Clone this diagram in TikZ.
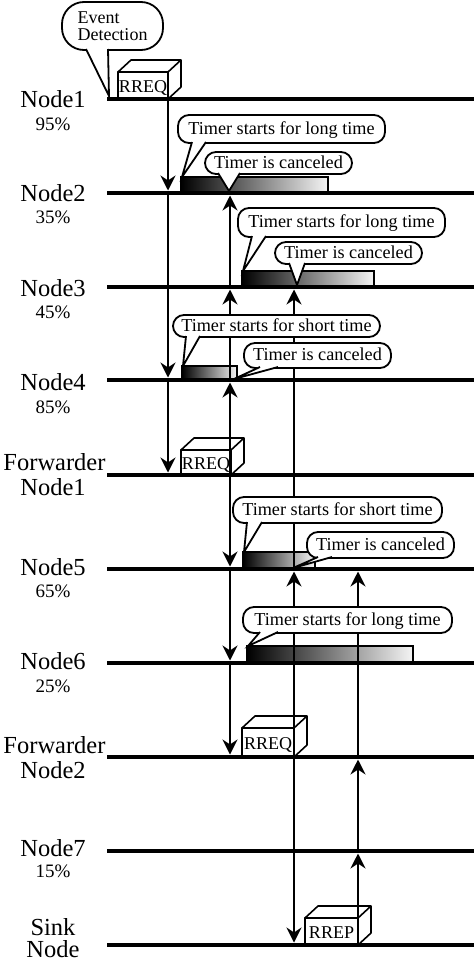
\documentclass[tikz,border=0pt]{standalone}
\usepackage{fontspec}
\setmainfont{Liberation Serif}
\usetikzlibrary{arrows.meta,calc}
\newcommand\calltail[4]{%
  \fill[white] ([xshift=#2pt,yshift=1.6pt]#1.south west) -- (#4) -- ([xshift=#3pt,yshift=1.6pt]#1.south west) -- cycle;
  \draw[tailline] ([xshift=#2pt,yshift=1pt]#1.south west) -- (#4) -- ([xshift=#3pt,yshift=1pt]#1.south west);
}
\newcommand\pktfaces[1]{%
  \filldraw[pktline, fill=white] (#1.north west) -- ++(13,-12) -- ([shift={(13,-12)}]#1.north east) -- ([shift={(13,-12)}]#1.south east) -- (#1.south east) -- (#1.north east) -- cycle;
  \draw[pktline] (#1.north east) -- ++(13,-12);
}
\begin{document}
\begin{tikzpicture}[x=1pt,y=-1pt,
  hline/.style={line width=3.5pt},
  vline/.style={line width=1.7pt},
  arr/.style={vline,-{Stealth[length=15pt,width=15pt,inset=5pt]},shorten >=2.5pt},
  lbl/.style={font=\fontsize{24.5}{26}\selectfont, anchor=base, inner sep=0pt},
  pct/.style={font=\fontsize{19}{20}\selectfont, anchor=base, inner sep=0pt},
  callout/.style={draw, line width=1.8pt, fill=white, rounded corners=11pt, inner sep=0pt, outer sep=0pt,
    font=\fontsize{18.2}{18}\selectfont, text height=12pt, text depth=2pt},
  tailline/.style={line width=1.8pt, line join=miter},
  bar/.style={draw, line width=1.2pt, left color=black, right color=black!4},
  pktline/.style={line width=1.6pt, line join=round},
  pkt/.style={draw, pktline, fill=white, inner sep=0pt, outer sep=0pt, anchor=south west,
    font=\fontsize{18}{18}\selectfont, text height=13pt, text depth=0pt},
]
\useasboundingbox (0,0) rectangle (474,961);

% ---- packets
\node[pkt, minimum width=50pt, minimum height=27pt] (r1) at (118,99) {RREQ};
\pktfaces{r1}
\node[pkt, minimum width=50pt, minimum height=25pt] (r2) at (181,475) {RREQ};
\pktfaces{r2}
\node[pkt, minimum width=52pt, minimum height=29pt] (r3) at (242,757) {RREQ};
\pktfaces{r3}
\node[pkt, minimum width=53pt, minimum height=27pt] (rp) at (305,945) {RREP};
\pktfaces{rp}

% ---- timer bars
\shade[bar] (181,177) rectangle (328,193);
\shade[bar] (242,271) rectangle (374,287);
\shade[bar] (182,366) rectangle (237,380);
\shade[bar] (243,552) rectangle (315,569);
\shade[bar] (247,646) rectangle (413,663);

% ---- node lines
\foreach \n/\y in {n1/99,n2/193,n3/287,n4/380,f1/475,n5/569,n6/663,f2/757,n7/851,sk/945}{
  \coordinate (\n s) at (107,\y);
  \coordinate (\n e) at (474,\y);
  \draw[hline] (\n s) -- (\n e);
}

% ---- labels
\node[lbl] (l1) at (53,107) {Node1};   \node[pct] (p1) at (53,130) {95\%};
\node[lbl] (l2) at (53,201.5) {Node2}; \node[pct] (p2) at (53,223) {35\%};
\node[lbl] (l3) at (53,296) {Node3};   \node[pct] (p3) at (53,318) {45\%};
\node[lbl] (l4) at (53,390) {Node4};   \node[pct] (p4) at (53,413) {85\%};
\node[lbl] (lf1) at (54.5,470) {Forwarder}; \node[lbl] (lf1b) at (53,495) {Node1};
\node[lbl] (l5) at (53,575) {Node5};   \node[pct] (p5) at (53,597) {65\%};
\node[lbl] (l6) at (53,669) {Node6};   \node[pct] (p6) at (53,692) {25\%};
\node[lbl] (lf2) at (54.5,753) {Forwarder}; \node[lbl] (lf2b) at (53,778) {Node2};
\node[lbl] (l7) at (53,856) {Node7};   \node[pct] (p7) at (53,877) {15\%};
\node[lbl] (lsk) at (53,935) {Sink};   \node[lbl] (lskb) at (53,957.5) {Node};

% ---- message arrows
\coordinate (A1) at (168,99);  \coordinate (A2) at (168,193);
\coordinate (A4) at (168,380); \coordinate (A5) at (168,475);
\draw[arr] (A1) -- (A2);
\draw[arr] (A2) -- (A4);
\draw[arr] (A4) -- (A5);

\coordinate (B2) at (230,193); \coordinate (B3) at (230,287);
\coordinate (B4) at (230,380); \coordinate (B5) at (230,475);
\coordinate (B6) at (230,569); \coordinate (B7) at (230,663);
\coordinate (B8) at (230,757);
\draw[arr] (B5) -- (B4);
\draw[arr] (B4) -- (B3);
\draw[arr] (B3) -- (B2);
\draw[arr] (B5) -- (B6);
\draw[arr] (B6) -- (B7);
\draw[arr] (B7) -- (B8);

\coordinate (C3) at (294,287); \coordinate (C6) at (294,569);
\coordinate (C7) at (294,663); \coordinate (C8) at (294,757);
\coordinate (C10) at (294,945);
\draw[vline] (C8) -- (C7);
\draw[arr] (C7) -- (C6);
\draw[arr] (C6) -- (C3);
\draw[arr] (C8) -- (C10);

\coordinate (D6) at (358,569); \coordinate (D7) at (358,663);
\coordinate (D8) at (358,757); \coordinate (D9) at (358,851);
\coordinate (D10) at (358,945);
\draw[arr] (D10) -- (D9);
\draw[arr] (D9) -- (D8);
\draw[vline] (D8) -- (D7);
\draw[arr] (D7) -- (D6);

% ---- callouts
\coordinate (tev) at (109,96);
\node[draw, line width=1.8pt, fill=white, rounded corners=22pt, inner sep=0pt, outer sep=0pt,
  minimum width=101pt, minimum height=48pt, align=left,
  font=\fontsize{18}{17.5}\selectfont] (ev) at (112.5,26) {Event\\Detection};
\calltail{ev}{24}{46}{tev}

\coordinate (t2a) at (182,177);
\node[callout, minimum width=207pt, minimum height=28pt] (c2a) at (281.5,129) {Timer starts for long time};
\calltail{c2a}{14}{28}{t2a}
\coordinate (t2b) at (229,191);
\node[callout, minimum width=147pt, minimum height=22pt] (c2b) at (278.5,163) {Timer is canceled};
\calltail{c2b}{13}{35}{t2b}

\coordinate (t3a) at (243,271);
\node[callout, minimum width=207pt, minimum height=29pt] (c3a) at (341.5,222.5) {Timer starts for long time};
\calltail{c3a}{14}{28}{t3a}
\coordinate (t3b) at (297,285);
\node[callout, minimum width=147pt, minimum height=22pt] (c3b) at (348.5,253) {Timer is canceled};
\calltail{c3b}{14}{30}{t3b}

\coordinate (t4a) at (183,366);
\node[callout, minimum width=207pt, minimum height=22pt] (c4a) at (276.5,326) {Timer starts for short time};
\calltail{c4a}{13}{27}{t4a}
\coordinate (t4b) at (234,379);
\node[callout, minimum width=147pt, minimum height=25pt] (c4b) at (317.5,355.5) {Timer is canceled};
\calltail{c4b}{16}{34}{t4b}

\coordinate (t5a) at (244,552);
\node[callout, minimum width=209pt, minimum height=26pt] (c5a) at (337.5,510) {Timer starts for short time};
\calltail{c5a}{14}{29}{t5a}
\coordinate (t5b) at (293,568);
\node[callout, minimum width=147pt, minimum height=26pt] (c5b) at (380.5,545) {Timer is canceled};
\calltail{c5b}{11}{25}{t5b}

\coordinate (t6a) at (248,646);
\node[callout, minimum width=209pt, minimum height=26pt] (c6a) at (347.5,620) {Timer starts for long time};
\calltail{c6a}{17}{35}{t6a}
\end{tikzpicture}
\end{document}
